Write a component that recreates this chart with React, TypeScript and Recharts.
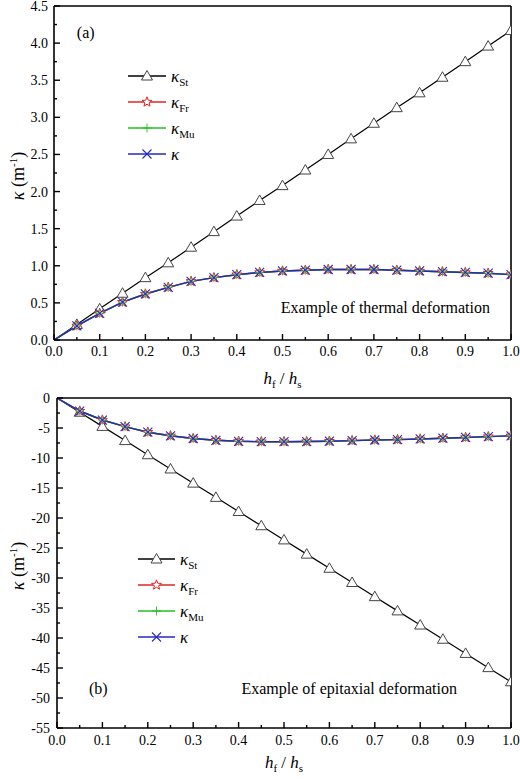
import React from 'react';
import { LineChart, Line, XAxis, YAxis, ReferenceLine, ReferenceDot, Legend } from 'recharts';

// ---------- data ----------
const hRatio = [0, 0.05, 0.1, 0.15, 0.2, 0.25, 0.3, 0.35, 0.4, 0.45, 0.5, 0.55, 0.6, 0.65, 0.7, 0.75, 0.8, 0.85, 0.9, 0.95, 1.0];

// (a) thermal deformation
const thermalSt = [0, 0.21, 0.42, 0.63, 0.84, 1.04, 1.25, 1.46, 1.67, 1.88, 2.08, 2.29, 2.5, 2.71, 2.92, 3.13, 3.33, 3.54, 3.75, 3.96, 4.17];
const thermalFr = [0, 0.19, 0.36, 0.51, 0.62, 0.71, 0.79, 0.84, 0.88, 0.91, 0.93, 0.94, 0.95, 0.95, 0.95, 0.94, 0.93, 0.92, 0.91, 0.9, 0.88];
const thermalMu = [0, 0.19, 0.36, 0.51, 0.62, 0.71, 0.79, 0.84, 0.88, 0.91, 0.93, 0.94, 0.95, 0.95, 0.95, 0.94, 0.93, 0.92, 0.91, 0.9, 0.88];
const thermalK = [0, 0.19, 0.36, 0.51, 0.62, 0.71, 0.79, 0.84, 0.88, 0.91, 0.93, 0.94, 0.95, 0.95, 0.95, 0.94, 0.93, 0.92, 0.91, 0.9, 0.88];

// (b) epitaxial deformation
const epiSt = [0, -2.37, -4.73, -7.1, -9.46, -11.83, -14.19, -16.56, -18.92, -21.29, -23.65, -26.02, -28.38, -30.75, -33.11, -35.48, -37.84, -40.21, -42.57, -44.94, -47.3];
const epiFr = [0, -2.17, -3.67, -4.78, -5.7, -6.3, -6.75, -7.05, -7.22, -7.28, -7.28, -7.26, -7.2, -7.1, -7.0, -6.93, -6.83, -6.7, -6.58, -6.44, -6.3];
const epiMu = [0, -2.17, -3.67, -4.78, -5.7, -6.3, -6.75, -7.05, -7.22, -7.28, -7.28, -7.26, -7.2, -7.1, -7.0, -6.93, -6.83, -6.7, -6.58, -6.44, -6.3];
const epiK = [0, -2.17, -3.67, -4.78, -5.7, -6.3, -6.75, -7.05, -7.22, -7.28, -7.28, -7.26, -7.2, -7.1, -7.0, -6.93, -6.83, -6.7, -6.58, -6.44, -6.3];

// ticks
const xTicks = [0, 0.05, 0.1, 0.15, 0.2, 0.25, 0.3, 0.35, 0.4, 0.45, 0.5, 0.55, 0.6, 0.65, 0.7, 0.75, 0.8, 0.85, 0.9, 0.95, 1.0];
const xMajor = [0, 0.1, 0.2, 0.3, 0.4, 0.5, 0.6, 0.7, 0.8, 0.9, 1.0];
const yTicksA = [0, 0.25, 0.5, 0.75, 1, 1.25, 1.5, 1.75, 2, 2.25, 2.5, 2.75, 3, 3.25, 3.5, 3.75, 4, 4.25, 4.5];
const yMajorA = [0, 0.5, 1, 1.5, 2, 2.5, 3, 3.5, 4, 4.5];
const yTicksB = [0, -2.5, -5, -7.5, -10, -12.5, -15, -17.5, -20, -22.5, -25, -27.5, -30, -32.5, -35, -37.5, -40, -42.5, -45, -47.5, -50, -52.5, -55];
const yMajorB = [0, -5, -10, -15, -20, -25, -30, -35, -40, -45, -50, -55];

const seriesKeys = ['st', 'fr', 'mu', 'k'];
const seriesSubs = ['St', 'Fr', 'Mu', ''];
const seriesColors = ['#000000', '#e02424', '#22c022', '#2828c0'];

const dataA = hRatio.map((x, i) => ({ x, st: thermalSt[i], fr: thermalFr[i], mu: thermalMu[i], k: thermalK[i] }));
const dataB = hRatio.map((x, i) => ({ x, st: epiSt[i], fr: epiFr[i], mu: epiMu[i], k: epiK[i] }));

const FONT = 'Liberation Serif';
const TS = { fontFamily: FONT } as React.CSSProperties;

// ---------- markers ----------
function Marker({ kind, cx, cy }: { kind: string; cx: number; cy: number }) {
  if (kind === 'st') {
    return <path d={`M${cx},${cy - 5.5}L${cx - 5.5},${cy + 4}L${cx + 5.5},${cy + 4}Z`} fill="#fff" stroke="#444" strokeWidth={1} />;
  }
  if (kind === 'fr') {
    const pts: string[] = [];
    for (let j = 0; j < 10; j++) {
      const r = j % 2 === 0 ? 5.2 : 2.2;
      const a = -Math.PI / 2 + (j * Math.PI) / 5;
      pts.push(`${cx + r * Math.cos(a)},${cy + r * Math.sin(a)}`);
    }
    return <polygon points={pts.join(' ')} fill="#fff" stroke="#e02424" strokeWidth={1} />;
  }
  if (kind === 'mu') {
    return (
      <g stroke="#22c022" strokeWidth={0.9}>
        <line x1={cx - 4.5} x2={cx + 4.5} y1={cy} y2={cy} />
        <line x1={cx} x2={cx} y1={cy - 4.5} y2={cy + 4.5} />
      </g>
    );
  }
  return (
    <g stroke="#2828c0" strokeWidth={1.1}>
      <line x1={cx - 4.5} x2={cx + 4.5} y1={cy - 4.5} y2={cy + 4.5} />
      <line x1={cx - 4.5} x2={cx + 4.5} y1={cy + 4.5} y2={cy - 4.5} />
    </g>
  );
}

const makeDot = (kind: string) => (p: any) => {
  const key = `${kind}-${p.index}`;
  if (p.cx == null || p.cy == null || p.payload?.x === 0) return <g key={key} />;
  return (
    <g key={key}>
      <Marker kind={kind} cx={p.cx} cy={p.cy} />
    </g>
  );
};

// ---------- ticks ----------
const isIn = (arr: number[], v: number) => arr.some((a) => Math.abs(a - v) < 1e-9);

const makeXTick = (major: number[], margin: number) => (p: any) => {
  const v = p.payload.value;
  const mj = isIn(major, v);
  const ay = p.y - margin;
  return (
    <g>
      <line x1={p.x} x2={p.x} y1={ay} y2={ay - (mj ? 6 : 3)} stroke="#000" strokeWidth={1.4} />
      {mj && (
        <text x={p.x} y={p.y} dy="0.71em" textAnchor="middle" fontSize={14} style={TS} fill="#000">
          {v.toFixed(1)}
        </text>
      )}
    </g>
  );
};

const makeYTick = (major: number[], margin: number, fmt: (v: number) => string) => (p: any) => {
  const v = p.payload.value;
  const mj = isIn(major, v);
  const ax = p.x + margin;
  return (
    <g>
      <line x1={ax} x2={ax + (mj ? 6 : 3)} y1={p.y} y2={p.y} stroke="#000" strokeWidth={1.4} />
      {mj && (
        <text x={p.x} y={p.y} dy="0.355em" textAnchor="end" fontSize={14} style={TS} fill="#000">
          {fmt(v)}
        </text>
      )}
    </g>
  );
};

// ---------- labels ----------
function XLabel(props: any) {
  const { viewBox, dyBase } = props;
  const cx = viewBox.x + viewBox.width / 2;
  const y = viewBox.y + dyBase;
  return (
    <text x={cx} y={y} textAnchor="middle" fontSize={17} style={TS} fill="#000">
      <tspan fontStyle="italic">h</tspan>
      <tspan fontSize={11} dy={4}>f</tspan>
      <tspan dy={-4}>{' / '}</tspan>
      <tspan fontStyle="italic">h</tspan>
      <tspan fontSize={11} dy={4}>s</tspan>
    </text>
  );
}

function YLabel(props: any) {
  const { viewBox, xPos, shift } = props;
  const cy = viewBox.y + viewBox.height / 2 + (shift || 0);
  return (
    <text x={xPos} y={cy} transform={`rotate(-90, ${xPos}, ${cy})`} textAnchor="middle" fontSize={18} style={TS} fill="#000">
      <tspan fontStyle="italic">κ</tspan>
      <tspan>{' (m'}</tspan>
      <tspan fontSize={11} dy={-7}>-1</tspan>
      <tspan dy={7}>)</tspan>
    </text>
  );
}

function AnnText(props: any) {
  const { viewBox, text, anchor } = props;
  return (
    <text x={viewBox.x} y={viewBox.y} textAnchor={anchor} fontSize={16} style={TS} fill="#000">
      {text}
    </text>
  );
}

// ---------- legend ----------
const makeLegend = (lineW: number) => (props: any) => {
  const payload = [...(props.payload || [])].sort(
    (a: any, b: any) => seriesKeys.indexOf(a.dataKey) - seriesKeys.indexOf(b.dataKey)
  );
  return (
    <svg width={90} height={110} style={{ display: 'block', overflow: 'visible' }}>
      {payload.map((e: any, i: number) => {
        const key = e.dataKey as string;
        const idx = seriesKeys.indexOf(key);
        const y = 8 + i * 26;
        const mid = 4 + lineW / 2;
        return (
          <g key={key}>
            <line x1={4} x2={4 + lineW} y1={y} y2={y} stroke={seriesColors[idx]} strokeWidth={1.3} />
            <Marker kind={key} cx={mid} cy={y} />
            <text x={lineW + 9} y={y + 6} fontSize={17} style={TS} fill="#000">
              <tspan fontStyle="italic">κ</tspan>
              {seriesSubs[idx] && (
                <tspan fontSize={11} dy={4}>
                  {seriesSubs[idx]}
                </tspan>
              )}
            </text>
          </g>
        );
      })}
    </svg>
  );
};

export default function App() {
  const lines = (prefix: string) =>
    seriesKeys.map((k, i) => (
      <Line
        key={prefix + k}
        type="linear"
        dataKey={k}
        name={k}
        stroke={seriesColors[i]}
        strokeWidth={k === 'st' ? 1.2 : 1.4}
        dot={makeDot(k)}
        activeDot={false}
        isAnimationActive={false}
      />
    ));

  return (
    <div style={{ position: 'absolute', left: 0, top: 0, width: 520, height: 780, background: '#fff', fontFamily: FONT }}>
      <LineChart width={520} height={390} data={dataA} margin={{ top: 6, right: 9, bottom: 0, left: 0 }}>
        <XAxis
          type="number"
          dataKey="x"
          domain={[0, 1]}
          ticks={xTicks}
          interval={0}
          allowDataOverflow
          height={50}
          tickSize={0}
          tickMargin={6}
          tickLine={false}
          axisLine={{ stroke: '#000', strokeWidth: 1.6 }}
          tick={makeXTick(xMajor, 6)}
          label={<XLabel dyBase={44} />}
        />
        <YAxis
          type="number"
          domain={[0, 4.5]}
          ticks={yTicksA}
          interval={0}
          allowDataOverflow
          width={54}
          tickSize={0}
          tickMargin={6}
          tickLine={false}
          axisLine={{ stroke: '#000', strokeWidth: 1.6 }}
          tick={makeYTick(yMajorA, 6, (v) => v.toFixed(1))}
          label={<YLabel xPos={24} shift={3} />}
        />
        <ReferenceLine y={4.5} stroke="#000" strokeWidth={1.6} />
        <ReferenceLine x={1} stroke="#000" strokeWidth={1.6} />
        <ReferenceDot x={0.05} y={4.07} r={0} fill="none" stroke="none" label={<AnnText text="(a)" anchor="start" />} />
        <ReferenceDot x={0.954} y={0.365} r={0} fill="none" stroke="none" label={<AnnText text="Example of thermal deformation" anchor="end" />} />
        <Legend
          layout="vertical"
          align="center"
          verticalAlign="middle"
          wrapperStyle={{ position: 'absolute', left: 124, top: 68, width: 90, height: 110 }}
          content={makeLegend(38)}
        />
        {lines('a')}
      </LineChart>
      <LineChart width={520} height={390} data={dataB} margin={{ top: 8, right: 9, bottom: 0, left: 0 }}>
        <XAxis
          type="number"
          dataKey="x"
          domain={[0, 1]}
          ticks={xTicks}
          interval={0}
          allowDataOverflow
          height={52}
          tickSize={0}
          tickMargin={7}
          tickLine={false}
          axisLine={{ stroke: '#000', strokeWidth: 1.6 }}
          tick={makeXTick(xMajor, 7)}
          label={<XLabel dyBase={40} />}
        />
        <YAxis
          type="number"
          domain={[-55, 0]}
          ticks={yTicksB}
          interval={0}
          allowDataOverflow
          width={57}
          tickSize={0}
          tickMargin={7}
          tickLine={false}
          axisLine={{ stroke: '#000', strokeWidth: 1.6 }}
          tick={makeYTick(yMajorB, 7, (v) => String(v))}
          label={<YLabel xPos={24} shift={3} />}
        />
        <ReferenceLine y={0} stroke="#000" strokeWidth={1.6} />
        <ReferenceLine x={1} stroke="#000" strokeWidth={1.6} />
        <ReferenceDot x={0.0705} y={-49.3} r={0} fill="none" stroke="none" label={<AnnText text="(b)" anchor="start" />} />
        <ReferenceDot x={0.881} y={-49.3} r={0} fill="none" stroke="none" label={<AnnText text="Example of epitaxial deformation" anchor="end" />} />
        <Legend
          layout="vertical"
          align="center"
          verticalAlign="middle"
          wrapperStyle={{ position: 'absolute', left: 134, top: 161, width: 90, height: 110 }}
          content={makeLegend(37)}
        />
        {lines('b')}
      </LineChart>
    </div>
  );
}
